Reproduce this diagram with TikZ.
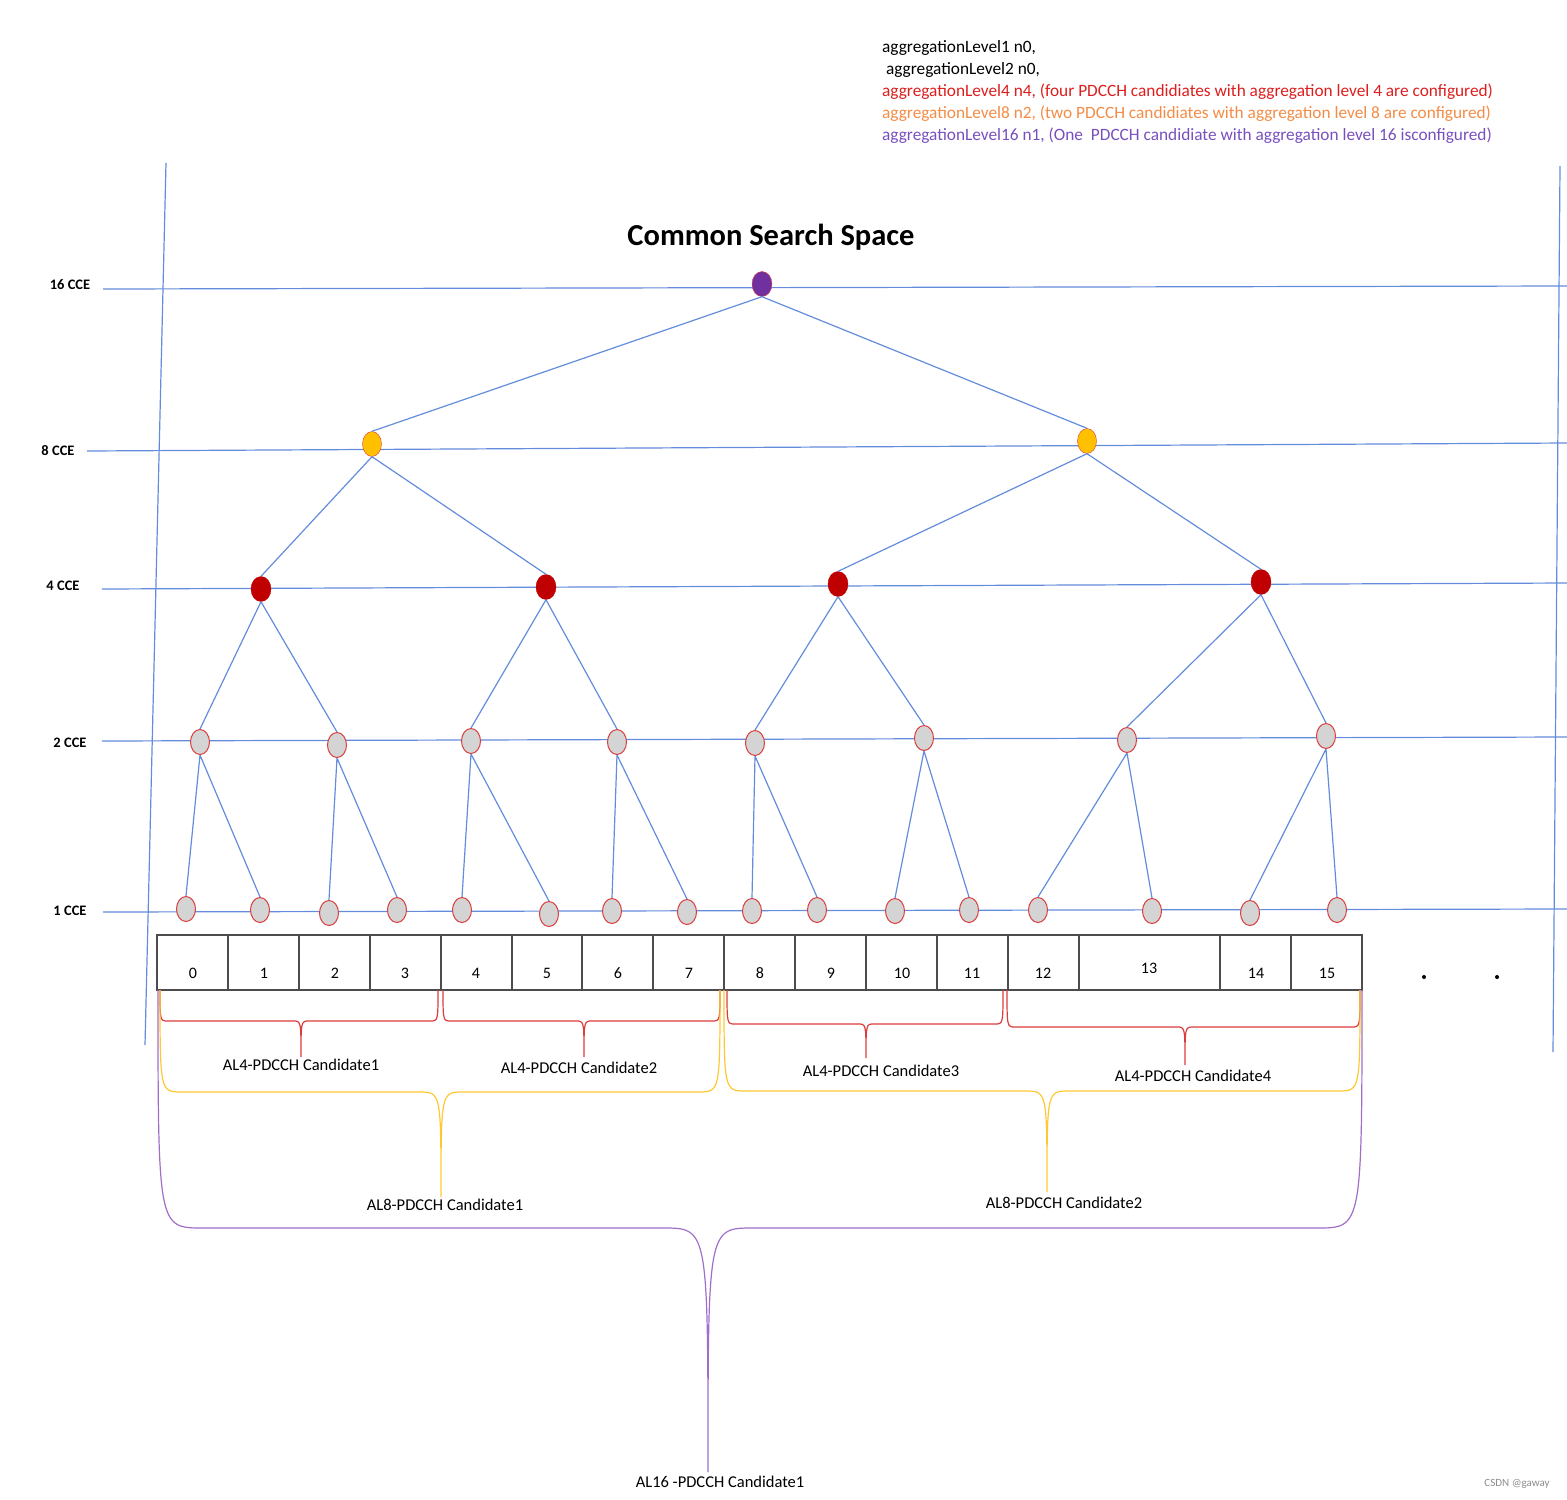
\documentclass[tikz,border=0pt]{standalone}
\usepackage{fontspec}
\setmainfont{Carlito}
\usetikzlibrary{shapes.geometric}
\definecolor{ln}{RGB}{100,140,220}
\definecolor{rd}{RGB}{192,0,0}
\definecolor{org}{RGB}{255,192,0}
\definecolor{pur}{RGB}{112,48,160}
\definecolor{tred}{RGB}{220,30,30}
\definecolor{torg}{RGB}{244,140,70}
\definecolor{tpur}{RGB}{120,80,190}
\definecolor{brd}{RGB}{220,60,60}
\definecolor{bye}{RGB}{255,200,50}
\definecolor{bpu}{RGB}{160,110,200}
\newcommand\mybrace[7]{\draw[#1,line width=1.2pt] (#2,990) .. controls (#2,#5) and (#2,#5) .. ({#2+#7},#5) -- ({#4-#7},#5) .. controls (#4,#5) and (#4,#5) .. (#4,#6) .. controls (#4,#5) and (#4,#5) .. ({#4+#7},#5) -- ({#3-#7},#5) .. controls (#3,#5) and (#3,#5) .. (#3,990);}
\begin{document}
\begin{tikzpicture}[x=1pt,y=-1pt,
  gl/.style={ln,line width=1.2pt},
  n1/.style={ellipse,draw=brd,fill=black!17,line width=1pt,minimum width=19pt,minimum height=25pt,inner sep=0pt},
  n4/.style={ellipse,draw=rd,fill=rd,minimum width=20pt,minimum height=25pt,inner sep=0pt},
  n8/.style={ellipse,draw=brd,fill=org,minimum width=19pt,minimum height=25pt,inner sep=0pt},
  n16/.style={ellipse,draw=brd,fill=pur,minimum width=20pt,minimum height=25pt,inner sep=0pt},
  lev/.style={font=\bfseries\fontsize{14.5}{16}\selectfont},
  lab/.style={font=\fontsize{16.5}{18}\selectfont},
  cell/.style={font=\fontsize{16}{18}\selectfont}]
\useasboundingbox (0,0) rectangle (1567,1500);
% grid
\draw[gl] (103,289) -- (1567,286);
\draw[gl] (87,451) -- (1567,443);
\draw[gl] (102,589) -- (1567,583);
\draw[gl] (102,741) -- (1567,737);
\draw[gl] (103,912) -- (1567,909);
\draw[gl] (166,163) -- (145,1045);
\draw[gl] (1560,166) -- (1553,1052);
\node[lev] (l16) at (70,285) {16 CCE};
\node[lev] (l8) at (58,451) {8 CCE};
\node[lev] (l4) at (63,586) {4 CCE};
\node[lev] (l2) at (70,743) {2 CCE};
\node[lev] (l1) at (70,911) {1 CCE};
% nodes
\node[n16] (a) at (762,284) {};
\node[n8] (b1) at (372,444) {};
\node[n8] (b2) at (1087,441) {};
\foreach \i/\x/\y in {1/261/589,2/546/587,3/838/584,4/1261/582}{\node[n4] (c\i) at (\x,\y) {};}
\foreach \i/\x/\y in {1/200/742,2/337/745,3/471/741,4/617/742,5/755/743,6/924/738,7/1127/740,8/1326/736}{\node[n1] (d\i) at (\x,\y) {};}
\foreach \i/\x/\y in {1/186/909,2/260/910,3/329/913,4/397/910,5/462/910,6/549/914,7/612/911,8/687/912,9/752/911,10/817/910,11/895/911,12/969/910,13/1038/910,14/1152/911,15/1250/913,16/1337/910}{\node[n1] (e\i) at (\x,\y) {};}
\draw[gl] (a.south) -- (b1.north) (a.south) -- (b2.north);
\draw[gl] (b1.south) -- (c1.north) (b1.south) -- (c2.north) (b2.south) -- (c3.north) (b2.south) -- (c4.north);
\foreach \p/\l/\r in {1/1/2,2/3/4,3/5/6,4/7/8}{\draw[gl] (c\p.south) -- (d\l.north) (c\p.south) -- (d\r.north);}
\foreach \p/\l/\r in {1/1/2,2/3/4,3/5/6,4/7/8,5/9/10,6/11/12,7/13/14,8/15/16}{\draw[gl] (d\p.south) -- (e\l.north) (d\p.south) -- (e\r.north);}
% cells
\draw[black!70,line width=1.2pt] (157,935) rectangle (1362,990);
\foreach \x in {228,299,370,441,512,582,653,724,795,866,937,1008,1079,1220,1291}{\draw[black!70,line width=1.2pt] (\x,935) -- (\x,990);}
\foreach \i/\x in {0/193,1/264,2/335,3/405,4/476,5/547,6/618,7/689,8/760,9/831,10/902,11/972,12/1043,14/1256,15/1327}{\node[cell] (k\i) at (\x,973) {\i};}
\node[cell] (k13) at (1149,968) {13};
\fill (1424,977) circle (2pt) (1497,977) circle (2pt);
% braces
\mybrace{brd}{160}{438}{301}{1021}{1057}{8}
\mybrace{brd}{443}{720}{584}{1021}{1057}{8}
\mybrace{brd}{727}{1003}{866}{1024}{1058}{8}
\mybrace{brd}{1007}{1360}{1185}{1027}{1065}{8}
\mybrace{bye}{160}{720}{441}{1092}{1197}{22}
\mybrace{bye}{724}{1360}{1047}{1091}{1192}{22}
\mybrace{bpu}{158}{1362}{708}{1228}{1472}{45}
\node[lab] (t1) at (301,1065) {AL4-PDCCH Candidate1};
\node[lab] (t2) at (579,1068) {AL4-PDCCH Candidate2};
\node[lab] (t3) at (881,1071) {AL4-PDCCH Candidate3};
\node[lab] (t4) at (1193,1076) {AL4-PDCCH Candidate4};
\node[lab] (t5) at (445,1205) {AL8-PDCCH Candidate1};
\node[lab] (t6) at (1064,1203) {AL8-PDCCH Candidate2};
\node[lab] (t7) at (720,1482) {AL16 -PDCCH Candidate1};
\node[font=\bfseries\fontsize{30.5}{33}\selectfont] (title) at (771,237) {Common Search Space};
\node[anchor=north west,align=left,inner sep=0pt,font=\fontsize{17.3}{22}\selectfont] (legend) at (882,40) {aggregationLevel1 n0,\\
\ aggregationLevel2 n0,\\
\textcolor{tred}{aggregationLevel4 n4, (four PDCCH candidiates with aggregation level 4 are configured)}\\
\textcolor{torg}{aggregationLevel8 n2, (two PDCCH candidiates with aggregation level 8 are configured)}\\
\textcolor{tpur}{aggregationLevel16 n1, (One\ \ PDCCH candidiate with aggregation level 16 isconfigured)}};
\node[text=black!45,font=\fontsize{11}{12}\selectfont] (wm) at (1517,1484) {CSDN @gaway};
\end{tikzpicture}
\end{document}
